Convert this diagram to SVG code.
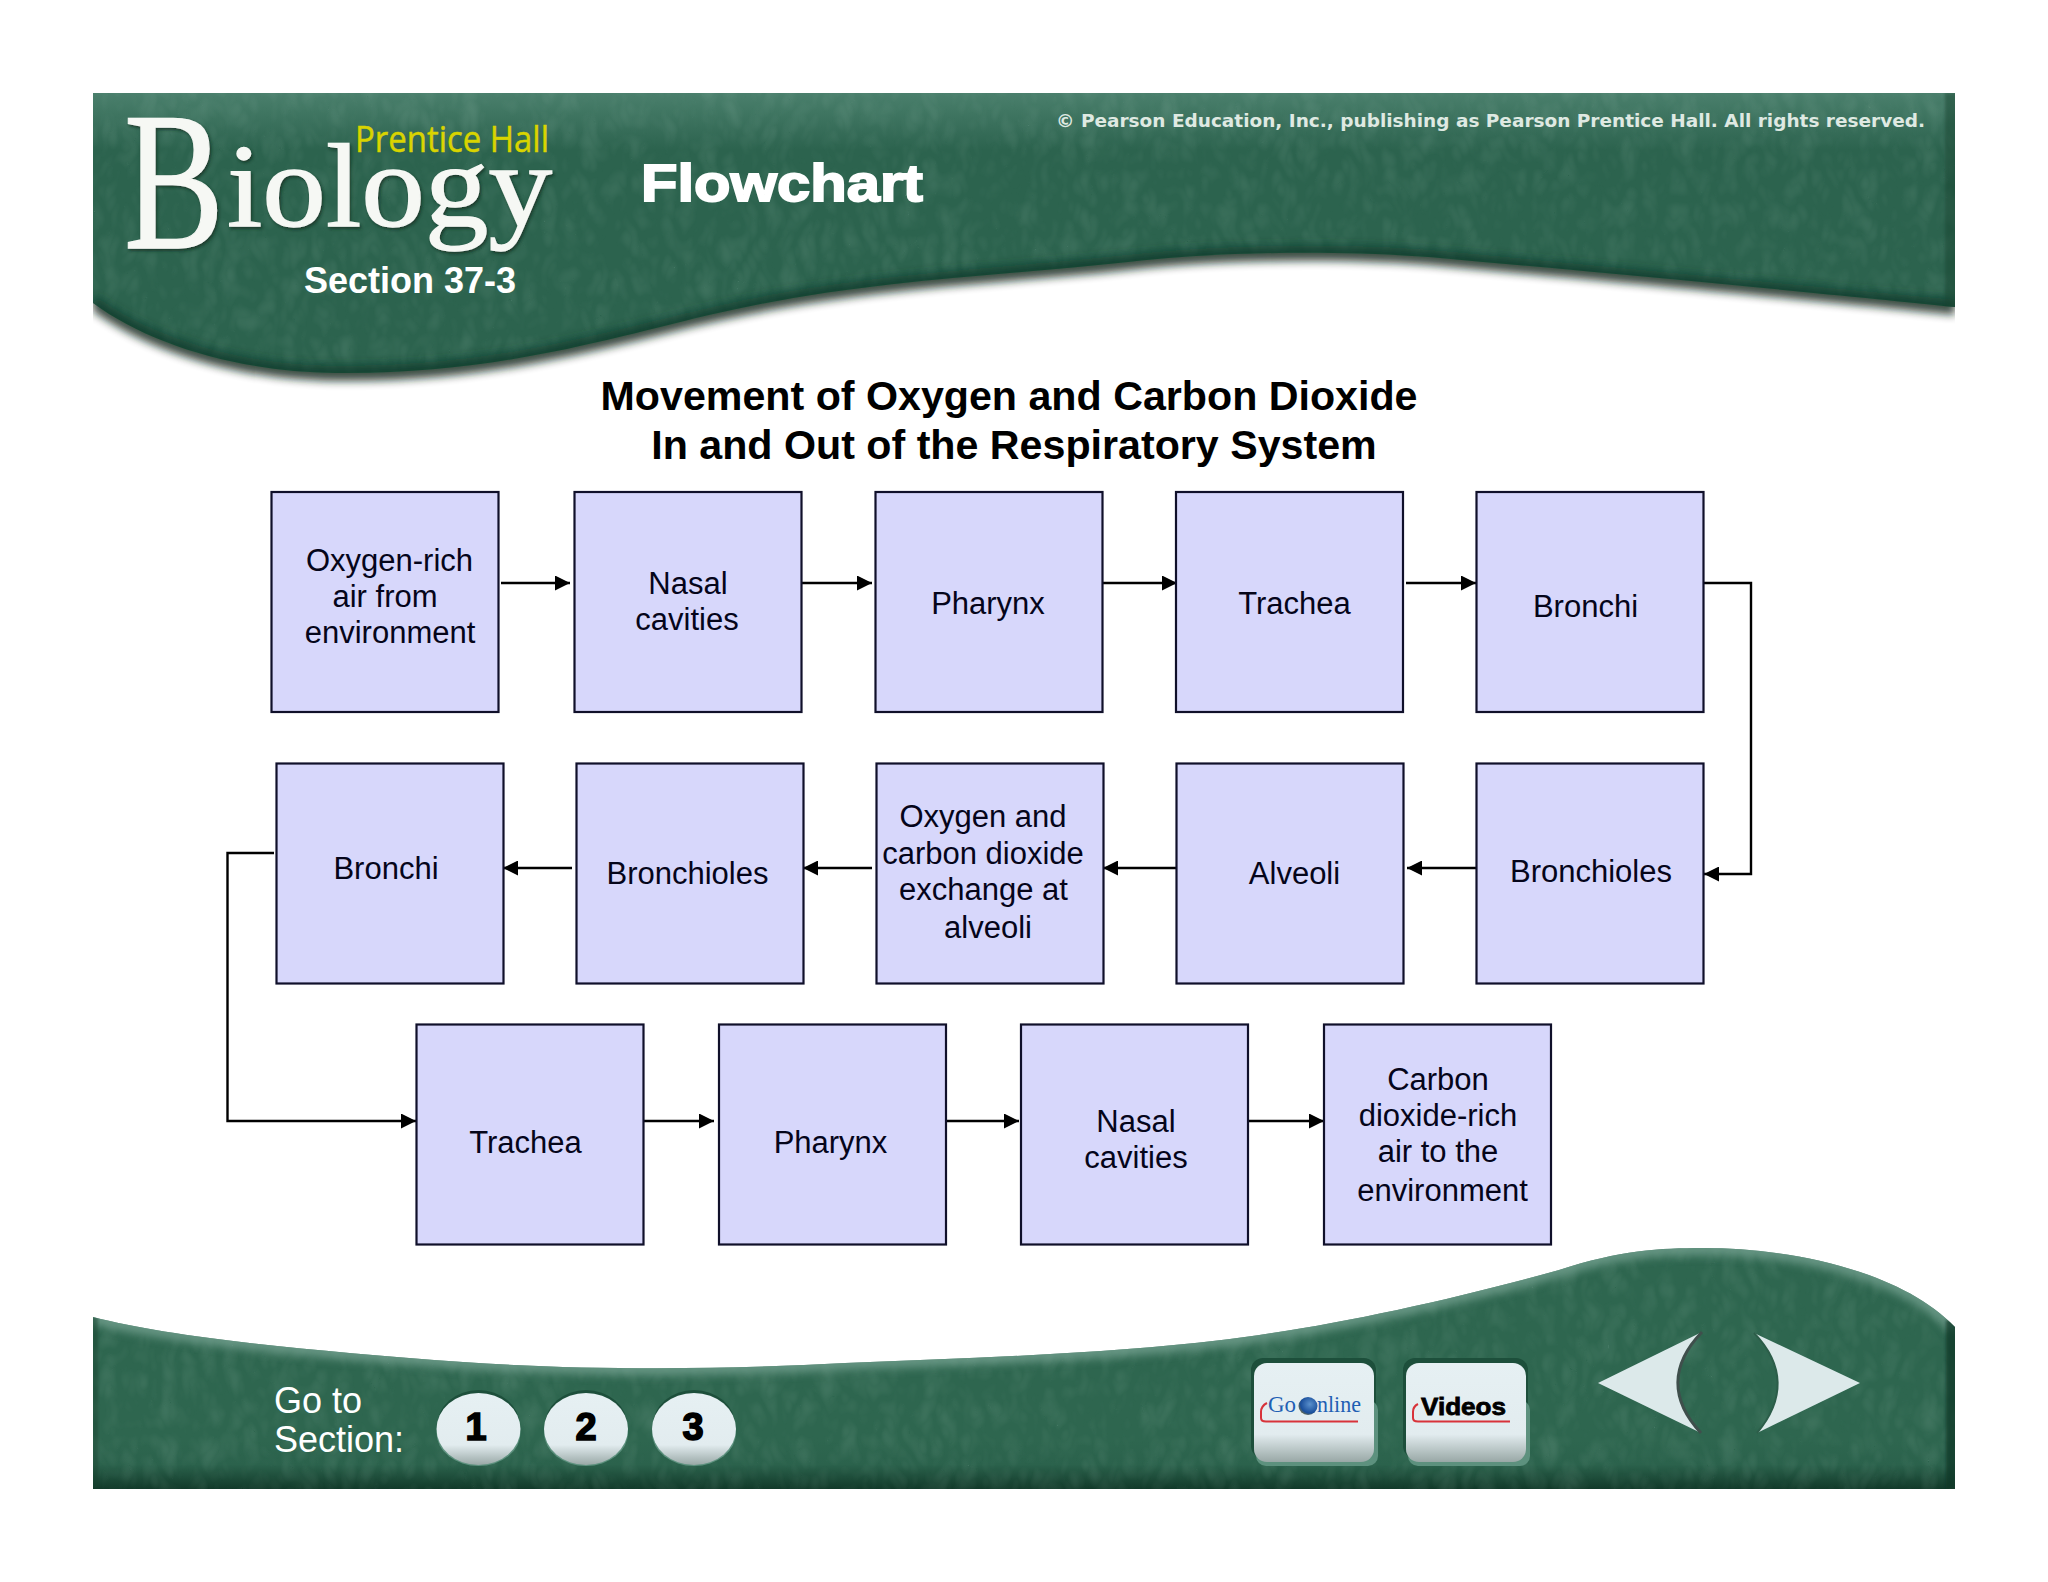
<svg xmlns="http://www.w3.org/2000/svg" width="2048" height="1582" viewBox="0 0 2048 1582">
<style>
.box{fill:#d7d7fb;stroke:#10102a;stroke-width:2.2}
.lbl{font-family:"Liberation Sans",Arial,sans-serif;font-size:31px;fill:#05051a;text-anchor:middle}
.ttl{font-family:"Liberation Sans",Arial,sans-serif;font-size:41.200px;font-weight:700;fill:#000;text-anchor:middle}
.con{fill:none;stroke:#000;stroke-width:2.4;marker-end:url(#ah)}
.num{font-family:"Liberation Sans",Arial,sans-serif;font-size:38px;font-weight:700;fill:#000;stroke:#000;stroke-width:1.6;text-anchor:middle}
.wht{font-family:"Liberation Sans",Arial,sans-serif;fill:#fff}
.btn{fill:url(#btnG)}
.hole{fill:#1d4f3b}
.lip{fill:#5d917e}
.red{fill:none;stroke:#d8333a;stroke-width:2}
</style>
<defs>
<marker id="ah" markerUnits="userSpaceOnUse" markerWidth="15" markerHeight="15" refX="15" refY="7.5" orient="auto"><path d="M0,0L15,7.5L0,15Z" fill="#000"/></marker>
<path id="topP" d="M93,93H1955V307C1840,295 1640,276 1440,258C1360,251 1230,250 1128,262C1000,276 860,280 718,313C620,335 500,375 335,373C240,372 150,345 93,303Z"/>
<path id="botP" d="M93,1317C170,1337 300,1350 463,1362C580,1370 720,1370 845,1363C1000,1357 1150,1352 1272,1333C1360,1320 1470,1295 1559,1270C1620,1250 1660,1248 1703,1248C1790,1248 1900,1270 1955,1327V1489H93Z"/>
<clipPath id="topC"><use href="#topP"/></clipPath>
<clipPath id="botC"><use href="#botP"/></clipPath>
<clipPath id="shC"><rect x="93" y="93" width="1862" height="320"/></clipPath>
<linearGradient id="topG" gradientUnits="userSpaceOnUse" x1="0" y1="93" x2="0" y2="150"><stop offset="0" stop-color="#4a7f6c"/><stop offset="1" stop-color="#2c634e"/></linearGradient>
<linearGradient id="botG" gradientUnits="userSpaceOnUse" x1="0" y1="1440" x2="0" y2="1489"><stop offset="0" stop-color="#2e664f"/><stop offset=".5" stop-color="#2b624c"/><stop offset="1" stop-color="#123a2a"/></linearGradient>
<linearGradient id="btnG" x1="0" y1="0" x2="0" y2="1"><stop offset="0" stop-color="#e6f0f3"/><stop offset=".72" stop-color="#e2ecef"/><stop offset="1" stop-color="#99a8a6"/></linearGradient>
<radialGradient id="glb" cx=".6" cy=".4" r=".7"><stop offset="0" stop-color="#5a90cc"/><stop offset=".7" stop-color="#1a4f9c"/><stop offset="1" stop-color="#8a7a30"/></radialGradient>
<filter id="tex" x="0" y="0" width="1" height="1"><feTurbulence type="turbulence" baseFrequency="0.05 0.03" numOctaves="2" seed="7"/><feColorMatrix type="matrix" values="0 0 0 0 0.45  0 0 0 0 0.65  0 0 0 0 0.56  1.1 0 0 0 -0.12"/></filter>
<filter id="b3" x="-5%" y="-20%" width="110%" height="140%"><feGaussianBlur stdDeviation="4"/></filter>
<filter id="b5" x="-5%" y="-20%" width="110%" height="140%"><feGaussianBlur stdDeviation="5"/></filter>
<filter id="b1" x="-20%" y="-20%" width="140%" height="140%"><feGaussianBlur stdDeviation="1.6"/></filter>
<filter id="sd" x="-5%" y="-10%" width="110%" height="125%"><feDropShadow dx="1.500" dy="2" stdDeviation="1.500" flood-color="#0c2a1e" flood-opacity=".7"/></filter>
</defs>
<rect width="2048" height="1582" fill="#fff"/>

<g id="header-panel">
<g clip-path="url(#shC)"><use href="#topP" transform="translate(0,8)" fill="#0c2018" opacity=".8" filter="url(#b3)"/></g>
<use href="#topP" fill="url(#topG)"/>
<g clip-path="url(#topC)">
<rect x="93" y="93" width="1862" height="290" filter="url(#tex)" opacity=".17"/>
<path d="M1955,307C1840,295 1640,276 1440,258C1360,251 1230,250 1128,262C1000,276 860,280 718,313C620,335 500,375 335,373C240,372 150,345 93,303" fill="none" stroke="#10382a" stroke-width="14" filter="url(#b5)" opacity=".8"/>
<rect x="1945" y="93" width="14" height="220" fill="#15402f" opacity=".45" filter="url(#b1)"/>
</g>
<text font-family="Liberation Serif,serif" fill="#f6f8f4" stroke="#f6f8f4" stroke-width="1.300" filter="url(#sd)"><tspan x="124" y="248" font-size="197" textLength="100" lengthAdjust="spacingAndGlyphs">B</tspan><tspan x="227" y="226" font-size="118" textLength="325" lengthAdjust="spacingAndGlyphs">iology</tspan></text>
<text x="355" y="152" font-family="Open Sans,sans-serif" font-size="37" fill="#d9d400" stroke="#d9d400" stroke-width=".5" textLength="194" lengthAdjust="spacingAndGlyphs">Prentice Hall</text>
<text x="304" y="293" class="wht" font-size="36" font-weight="700" textLength="212" lengthAdjust="spacingAndGlyphs">Section 37-3</text>
<text x="641" y="201" class="wht" font-size="52" font-weight="700" stroke="#fff" stroke-width="1.800" textLength="282" lengthAdjust="spacingAndGlyphs">Flowchart</text>
<text x="1056" y="127" font-family="DejaVu Sans,sans-serif" font-size="18" font-weight="700" fill="#dfe9e2" textLength="869" lengthAdjust="spacingAndGlyphs">© Pearson Education, Inc., publishing as Pearson Prentice Hall. All rights reserved.</text>
</g>

<g id="title">
<text x="1009" y="410" class="ttl">Movement of Oxygen and Carbon Dioxide</text>
<text x="1014" y="459" class="ttl">In and Out of the Respiratory System</text>
</g>

<g id="connectors">
<path class="con" d="M501,583H570"/>
<path class="con" d="M802,583H872"/>
<path class="con" d="M1103,583H1177"/>
<path class="con" d="M1406,583H1476"/>
<path class="con" d="M1704,583H1751V874H1704"/>
<path class="con" d="M1476,868H1407"/>
<path class="con" d="M1176,868H1103"/>
<path class="con" d="M872,868H803"/>
<path class="con" d="M572,868H503"/>
<path class="con" d="M274,853H227.500V1121H416"/>
<path class="con" d="M644,1121H714"/>
<path class="con" d="M946,1121H1019"/>
<path class="con" d="M1249,1121H1324"/>
</g>

<g id="n1"><rect class="box" x="271.500" y="492" width="227" height="220"/><text class="lbl" x="389.500" y="571">Oxygen-rich</text><text class="lbl" x="385" y="607">air from</text><text class="lbl" x="390" y="643">environment</text></g>
<g id="n2"><rect class="box" x="574.500" y="492" width="227" height="220"/><text class="lbl" x="688" y="594">Nasal</text><text class="lbl" x="687" y="630">cavities</text></g>
<g id="n3"><rect class="box" x="875.500" y="492" width="227" height="220"/><text class="lbl" x="988" y="614">Pharynx</text></g>
<g id="n4"><rect class="box" x="1176" y="492" width="227" height="220"/><text class="lbl" x="1294.500" y="614">Trachea</text></g>
<g id="n5"><rect class="box" x="1476.500" y="492" width="227" height="220"/><text class="lbl" x="1585.500" y="617">Bronchi</text></g>

<g id="n6"><rect class="box" x="1476.500" y="763.500" width="227" height="220"/><text class="lbl" x="1591" y="882">Bronchioles</text></g>
<g id="n7"><rect class="box" x="1176.500" y="763.500" width="227" height="220"/><text class="lbl" x="1294.500" y="884">Alveoli</text></g>
<g id="n8"><rect class="box" x="876.500" y="763.500" width="227" height="220"/><text class="lbl" x="983" y="827">Oxygen and</text><text class="lbl" x="983" y="864">carbon dioxide</text><text class="lbl" x="983.500" y="900">exchange at</text><text class="lbl" x="988" y="938">alveoli</text></g>
<g id="n9"><rect class="box" x="576.500" y="763.500" width="227" height="220"/><text class="lbl" x="687.500" y="884">Bronchioles</text></g>
<g id="n10"><rect class="box" x="276.500" y="763.500" width="227" height="220"/><text class="lbl" x="386" y="879">Bronchi</text></g>

<g id="n11"><rect class="box" x="416.500" y="1024.500" width="227" height="220"/><text class="lbl" x="525.500" y="1153">Trachea</text></g>
<g id="n12"><rect class="box" x="719" y="1024.500" width="227" height="220"/><text class="lbl" x="830.500" y="1153">Pharynx</text></g>
<g id="n13"><rect class="box" x="1021" y="1024.500" width="227" height="220"/><text class="lbl" x="1136" y="1132">Nasal</text><text class="lbl" x="1136" y="1168">cavities</text></g>
<g id="n14"><rect class="box" x="1324" y="1024.500" width="227" height="220"/><text class="lbl" x="1438" y="1090">Carbon</text><text class="lbl" x="1438" y="1126">dioxide-rich</text><text class="lbl" x="1438" y="1162">air to the</text><text class="lbl" x="1442.500" y="1201">environment</text></g>

<g id="footer-panel">
<use href="#botP" fill="url(#botG)"/>
<g clip-path="url(#botC)">
<rect x="93" y="1248" width="1862" height="241" filter="url(#tex)" opacity=".17"/>
<path d="M93,1317C170,1337 300,1350 463,1362C580,1370 720,1370 845,1363C1000,1357 1150,1352 1272,1333C1360,1320 1470,1295 1559,1270C1620,1250 1660,1248 1703,1248C1790,1248 1900,1270 1955,1327" fill="none" stroke="#7ba797" stroke-width="14" filter="url(#b5)" opacity=".75"/>
<rect x="88" y="1317" width="10" height="172" fill="#14402f" opacity=".45" filter="url(#b1)"/>
<rect x="1946" y="1320" width="12" height="169" fill="#0f3526" opacity=".7" filter="url(#b1)"/>
</g>
<text x="274" y="1413" class="wht" font-size="36" fill="#eef4f0">Go to</text>
<text x="274" y="1452" class="wht" font-size="36" fill="#eef4f0">Section:</text>
</g>

<g id="btn1"><ellipse class="hole" cx="478.500" cy="1425" rx="41" ry="35"/><ellipse class="lip" cx="478.500" cy="1433" rx="42" ry="33"/><ellipse class="btn" cx="478.500" cy="1429" rx="42" ry="36"/><text class="num" x="476" y="1440">1</text></g>
<g id="btn2"><ellipse class="hole" cx="586" cy="1425" rx="41" ry="35"/><ellipse class="lip" cx="586" cy="1433" rx="42" ry="33"/><ellipse class="btn" cx="586" cy="1429" rx="42" ry="36"/><text class="num" x="586" y="1440">2</text></g>
<g id="btn3"><ellipse class="hole" cx="694" cy="1425" rx="41" ry="35"/><ellipse class="lip" cx="694" cy="1433" rx="42" ry="33"/><ellipse class="btn" cx="694" cy="1429" rx="42" ry="36"/><text class="num" x="693" y="1440">3</text></g>

<g id="btn-online">
<rect class="hole" x="1251" y="1358" width="125" height="100" rx="12"/>
<rect class="lip" x="1256" y="1400" width="122" height="66" rx="10"/>
<rect class="btn" x="1254" y="1363" width="120" height="99" rx="13"/>
<text x="1268" y="1412" font-family="Liberation Serif,serif" font-size="24" fill="#1f5fb4" textLength="28" lengthAdjust="spacingAndGlyphs">Go</text>
<ellipse cx="1308" cy="1406" rx="9.500" ry="9" fill="url(#glb)"/>
<text x="1317" y="1412" font-family="Liberation Serif,serif" font-size="24" fill="#1f5fb4" textLength="44" lengthAdjust="spacingAndGlyphs">nline</text>
<path class="red" d="M1267,1403C1263,1405 1261,1408 1261,1412V1418Q1261,1421.500 1266,1421.500H1358"/>
</g>
<g id="btn-videos">
<rect class="hole" x="1403" y="1358" width="125" height="100" rx="12"/>
<rect class="lip" x="1408" y="1400" width="122" height="66" rx="10"/>
<rect class="btn" x="1406" y="1363" width="120" height="99" rx="13"/>
<text x="1421" y="1415" font-family="Liberation Sans,sans-serif" font-size="24" font-weight="700" fill="#000" stroke="#000" stroke-width=".8" textLength="85" lengthAdjust="spacingAndGlyphs">Videos</text>
<path class="red" d="M1418,1404C1414,1406 1413,1408 1413,1412V1418Q1413,1421.500 1418,1421.500H1510"/>
</g>
<g id="nav-prev">
<path d="M1598,1383L1702,1332C1670,1365 1670,1400 1701,1433Z" fill="#dce9ea"/>
<path d="M1702,1332C1670,1365 1670,1400 1701,1433" fill="none" stroke="#3f4f4c" stroke-width="3"/>
</g>
<g id="nav-next">
<path d="M1860,1383L1754,1333C1785,1365 1785,1400 1757,1433Z" fill="#dce9ea"/>
<path d="M1754,1333C1785,1365 1785,1400 1757,1433" fill="none" stroke="#2c5d49" stroke-width="2"/>
</g>
</svg>
